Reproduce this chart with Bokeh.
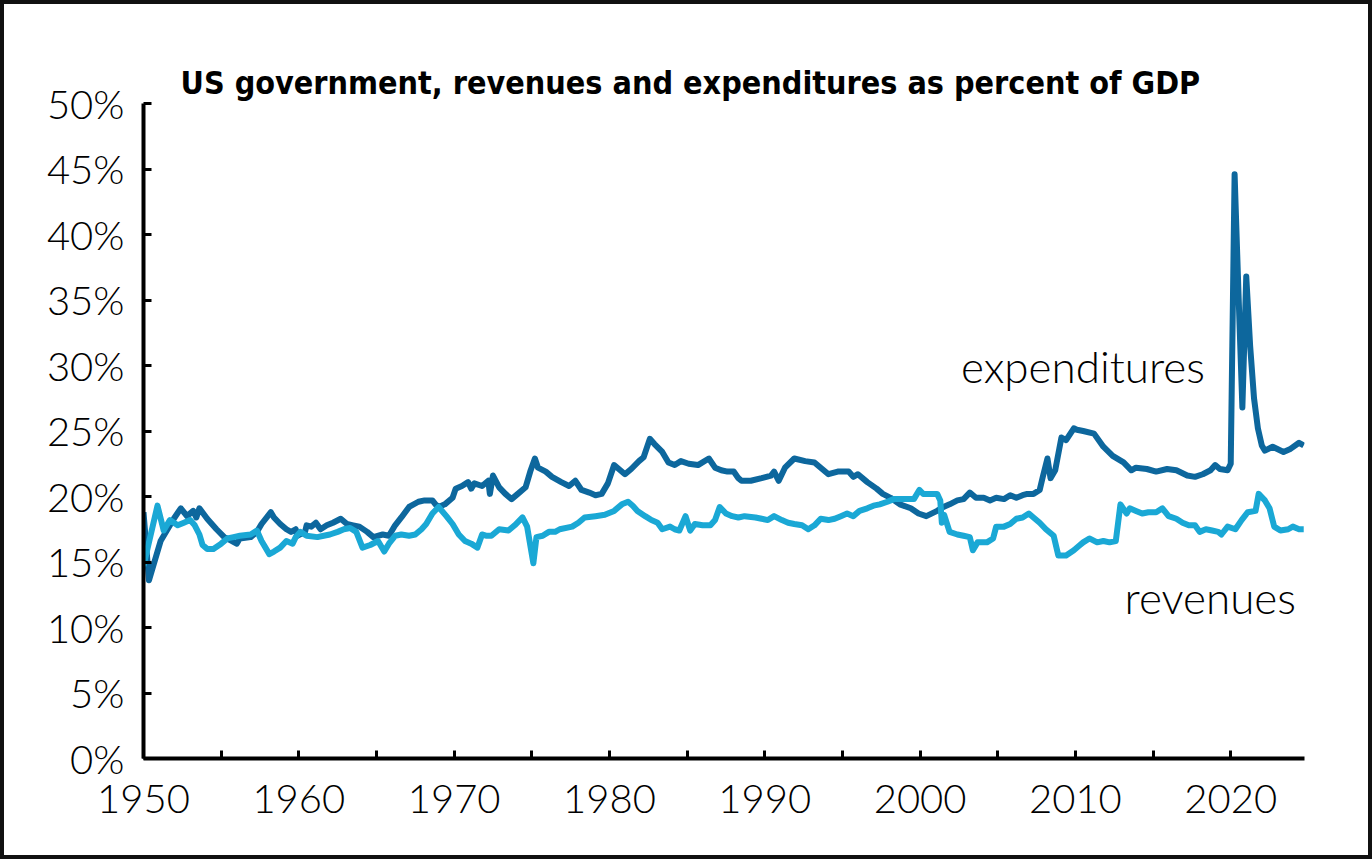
from bokeh.plotting import figure
from bokeh.models import Range1d, FixedTicker, Label
from bokeh.embed import file_html
from bokeh.resources import INLINE

# ---- data (percent of GDP) ----
exp_years = [1950.0, 1950.35, 1951.1, 1951.95, 1952.4, 1952.8, 1953.2, 1953.4, 1953.6, 1954.1,
             1954.7, 1955.2, 1955.7, 1956.0, 1956.2, 1956.9, 1957.3, 1957.6, 1958.2, 1958.4,
             1958.8, 1959.2, 1959.5, 1959.8, 1959.9, 1960.4, 1960.5, 1960.8, 1961.1, 1961.4,
             1961.8, 1962.2, 1962.7, 1963.1, 1963.5, 1963.9, 1964.4, 1964.8, 1965.4, 1965.8,
             1966.2, 1966.6, 1967.1, 1967.7, 1968.1, 1968.6, 1968.8, 1969.0, 1969.4, 1969.9,
             1970.1, 1970.5, 1970.9, 1971.1, 1971.3, 1971.8, 1972.2, 1972.3, 1972.5, 1972.9,
             1973.3, 1973.7, 1974.1, 1974.6, 1974.9, 1975.2, 1975.4, 1975.9, 1976.3, 1976.9,
             1977.4, 1977.8, 1978.2, 1978.7, 1979.1, 1979.5, 1979.9, 1980.3, 1981.0, 1981.4,
             1981.9, 1982.2, 1982.6, 1982.9, 1983.4, 1983.8, 1984.2, 1984.6, 1985.1, 1985.7,
             1986.4, 1986.8, 1987.2, 1987.6, 1988.0, 1988.3, 1988.5, 1989.1, 1989.8, 1990.4,
             1990.6, 1990.9, 1991.3, 1991.9, 1992.6, 1993.2, 1993.6, 1994.1, 1994.7, 1995.4,
             1995.7, 1996.0, 1996.6, 1997.2, 1997.6, 1998.1, 1998.7, 1999.4, 1999.9, 2000.4,
             2001.1, 2001.5, 2001.9, 2002.4, 2002.8, 2003.2, 2003.6, 2004.1, 2004.5, 2004.9,
             2005.4, 2005.8, 2006.2, 2006.6, 2006.9, 2007.3, 2007.7, 2007.9, 2008.2, 2008.4,
             2008.7, 2009.1, 2009.4, 2009.9, 2010.1, 2010.5, 2011.2, 2011.8, 2012.4, 2013.1,
             2013.6, 2013.9, 2014.6, 2015.2, 2015.9, 2016.5, 2017.2, 2017.7, 2018.2, 2018.7,
             2019.0, 2019.3, 2019.8, 2020.0, 2020.25, 2020.5, 2020.75, 2021.0, 2021.25, 2021.5,
             2021.75, 2022.0, 2022.2, 2022.7, 2023.4, 2023.8, 2024.4, 2024.7]
expenditures = [18.8, 13.6, 16.6, 18.3, 19.1, 18.5, 18.9, 18.4, 19.1, 18.3,
                17.5, 16.9, 16.6, 16.4, 16.8, 16.9, 17.3, 17.9, 18.8, 18.4,
                17.9, 17.5, 17.3, 17.5, 17.0, 17.3, 17.8, 17.7, 18.0, 17.5,
                17.8, 18.0, 18.3, 17.9, 17.8, 17.7, 17.3, 16.9, 17.1, 17.0,
                17.8, 18.4, 19.2, 19.6, 19.7, 19.7, 19.4, 19.2, 19.4, 19.9,
                20.6, 20.8, 21.1, 20.6, 21.0, 20.8, 21.2, 20.2, 21.6, 20.7,
                20.2, 19.8, 20.2, 20.7, 21.9, 22.9, 22.2, 21.9, 21.5, 21.1,
                20.8, 21.2, 20.5, 20.3, 20.1, 20.2, 21.0, 22.4, 21.7, 22.1,
                22.7, 23.0, 24.4, 24.0, 23.4, 22.6, 22.4, 22.7, 22.5, 22.4,
                22.9, 22.2, 22.0, 21.9, 21.9, 21.4, 21.2, 21.2, 21.4, 21.6,
                21.9, 21.2, 22.2, 22.9, 22.7, 22.6, 22.2, 21.7, 21.9, 21.9,
                21.5, 21.7, 21.1, 20.6, 20.2, 19.9, 19.4, 19.1, 18.7, 18.5,
                18.9, 19.2, 19.4, 19.7, 19.8, 20.3, 19.9, 19.9, 19.7, 19.9,
                19.8, 20.1, 19.9, 20.1, 20.2, 20.2, 20.5, 21.5, 22.9, 21.4,
                22.0, 24.5, 24.3, 25.2, 25.1, 25.0, 24.8, 23.8, 23.1, 22.6,
                22.0, 22.2, 22.1, 21.9, 22.1, 22.0, 21.6, 21.5, 21.7, 22.0,
                22.4, 22.1, 22.0, 22.5, 44.6, 35.5, 26.8, 36.8, 31.5, 27.5,
                25.2, 23.9, 23.5, 23.8, 23.4, 23.6, 24.1, 23.9]

rev_years = [1950.0, 1950.9, 1951.3, 1951.7, 1952.2, 1952.6, 1953.0, 1953.3, 1953.6, 1953.8,
             1954.1, 1954.5, 1955.0, 1955.4, 1955.8, 1956.2, 1956.9, 1957.3, 1957.6, 1958.1,
             1958.4, 1958.8, 1959.2, 1959.6, 1959.8, 1960.1, 1960.5, 1961.2, 1961.6, 1962.0,
             1962.5, 1962.9, 1963.3, 1963.7, 1964.1, 1964.6, 1965.1, 1965.5, 1965.8, 1966.2,
             1966.6, 1967.1, 1967.5, 1967.9, 1968.2, 1968.6, 1969.0, 1969.5, 1969.9, 1970.3,
             1970.7, 1971.1, 1971.5, 1971.8, 1972.1, 1972.4, 1972.9, 1973.5, 1973.9, 1974.4,
             1974.7, 1975.1, 1975.3, 1975.7, 1976.1, 1976.5, 1976.8, 1977.6, 1978.0, 1978.4,
             1979.1, 1979.7, 1980.3, 1980.8, 1981.2, 1981.5, 1981.8, 1982.3, 1982.7, 1983.1,
             1983.4, 1983.9, 1984.2, 1984.5, 1984.9, 1985.2, 1985.5, 1986.0, 1986.5, 1986.8,
             1987.1, 1987.5, 1987.9, 1988.3, 1988.7, 1989.4, 1989.8, 1990.2, 1990.6, 1991.1,
             1991.5, 1991.9, 1992.4, 1992.8, 1993.2, 1993.6, 1994.1, 1994.5, 1994.9, 1995.3,
             1995.7, 1996.1, 1996.6, 1997.0, 1997.4, 1997.9, 1998.3, 1998.7, 1999.1, 1999.6,
             1999.95, 2000.2, 2000.6, 2001.1, 2001.3, 2001.4, 2001.55, 2001.9, 2002.4, 2002.8,
             2003.2, 2003.4, 2003.7, 2004.3, 2004.7, 2004.9, 2005.4, 2005.8, 2006.2, 2006.6,
             2007.0, 2007.3, 2007.7, 2008.1, 2008.6, 2008.9, 2009.4, 2009.9, 2010.2, 2010.5,
             2010.9, 2011.4, 2011.8, 2012.2, 2012.6, 2012.9, 2013.3, 2013.5, 2013.9, 2014.3,
             2014.7, 2015.2, 2015.6, 2016.0, 2016.5, 2016.9, 2017.3, 2017.7, 2018.0, 2018.4,
             2018.8, 2019.2, 2019.4, 2019.8, 2020.3, 2020.7, 2021.1, 2021.6, 2021.8, 2022.2,
             2022.5, 2022.8, 2023.2, 2023.7, 2024.0, 2024.4, 2024.7]
revenues = [14.7, 19.3, 17.4, 18.2, 17.8, 18.0, 18.2, 17.8, 17.1, 16.3,
            16.0, 16.0, 16.4, 16.8, 16.9, 17.0, 17.1, 17.4, 16.6, 15.6,
            15.8, 16.1, 16.6, 16.4, 16.9, 17.3, 17.0, 16.9, 17.0, 17.1,
            17.3, 17.5, 17.6, 17.3, 16.1, 16.3, 16.6, 15.8, 16.4, 17.0,
            17.1, 17.0, 17.1, 17.5, 17.9, 18.7, 19.2, 18.5, 17.9, 17.1,
            16.6, 16.4, 16.1, 17.1, 17.0, 17.0, 17.5, 17.4, 17.8, 18.4,
            17.7, 14.9, 16.9, 17.0, 17.3, 17.3, 17.5, 17.7, 18.0, 18.4,
            18.5, 18.6, 18.9, 19.4, 19.6, 19.3, 18.9, 18.5, 18.2, 18.0,
            17.5, 17.7, 17.5, 17.4, 18.5, 17.4, 17.9, 17.8, 17.8, 18.2,
            19.2, 18.7, 18.5, 18.4, 18.5, 18.4, 18.3, 18.2, 18.5, 18.2,
            18.0, 17.9, 17.8, 17.5, 17.8, 18.3, 18.2, 18.3, 18.5, 18.7,
            18.5, 18.9, 19.1, 19.3, 19.4, 19.6, 19.8, 19.8, 19.8, 19.8,
            20.5, 20.2, 20.2, 20.2, 19.7, 18.0, 18.6, 17.3, 17.1, 17.0,
            16.9, 15.9, 16.5, 16.5, 16.8, 17.7, 17.7, 17.9, 18.3, 18.4,
            18.7, 18.4, 18.0, 17.5, 17.0, 15.5, 15.5, 15.9, 16.2, 16.5,
            16.8, 16.5, 16.6, 16.5, 16.6, 19.4, 18.7, 19.1, 18.9, 18.7,
            18.8, 18.8, 19.1, 18.5, 18.3, 18.0, 17.8, 17.8, 17.3, 17.5,
            17.4, 17.3, 17.1, 17.7, 17.5, 18.2, 18.8, 18.9, 20.2, 19.7,
            19.1, 17.7, 17.4, 17.5, 17.7, 17.5, 17.5]

x_ticks = list(range(1950, 2021, 5))
x_tick_labels = {t: (str(t) if t % 10 == 0 else "") for t in x_ticks}
y_ticks = list(range(0, 51, 5))
y_tick_labels = {t: f"{t}%" for t in y_ticks}

title_text = "US government, revenues and expenditures as percent of GDP"

EXP_COLOR = "#0d679d"
REV_COLOR = "#1aa8d5"
TICK_FONT = "Lato Light"

p = figure(width=1372, height=859, output_backend="svg", toolbar_location=None,
           x_range=Range1d(1950, 2024.75), y_range=Range1d(0, 50),
           min_border_left=139, min_border_right=72, min_border_top=99, min_border_bottom=105,
           styles={"border": "4px solid #111111"})
p.background_fill_color = "white"
p.border_fill_color = "white"
p.outline_line_color = None
p.xgrid.visible = False
p.ygrid.visible = False

p.title.text = title_text
p.title.align = "left"
p.title.offset = 37
p.title.standoff = 4
p.title.text_font = "DejaVu Sans Condensed, Roboto"
p.title.text_font_style = "bold"
p.title.text_font_size = "32px"
p.title.text_color = "black"

for ax in (p.xaxis[0], p.yaxis[0]):
    ax.axis_line_color = "black"
    ax.axis_line_width = 4
    ax.major_tick_line_color = "black"
    ax.major_tick_line_width = 3
    ax.major_tick_in = 8
    ax.major_tick_out = 0
    ax.minor_tick_line_color = None
    ax.major_label_text_font = TICK_FONT
    ax.major_label_text_font_size = "40px"
    ax.major_label_text_color = "black"

p.xaxis.major_label_standoff = 26
p.yaxis.major_label_standoff = 19
p.xaxis.ticker = FixedTicker(ticks=x_ticks)
p.xaxis.major_label_overrides = x_tick_labels
p.yaxis.ticker = FixedTicker(ticks=y_ticks)
p.yaxis.major_label_overrides = y_tick_labels

p.line(exp_years, expenditures, line_color=EXP_COLOR, line_width=6, line_join="round")
p.line(rev_years, revenues, line_color=REV_COLOR, line_width=6, line_join="round")

p.add_layout(Label(x=2018.34, y=30.0, text="expenditures", text_align="right",
                   text_baseline="alphabetic", text_font=TICK_FONT,
                   text_font_size="44px", text_color="black"))
p.add_layout(Label(x=2024.2, y=12.3, text="revenues", text_align="right",
                   text_baseline="alphabetic", text_font=TICK_FONT,
                   text_font_size="44px", text_color="black"))

open("out.html", "w").write(file_html(p, INLINE))
